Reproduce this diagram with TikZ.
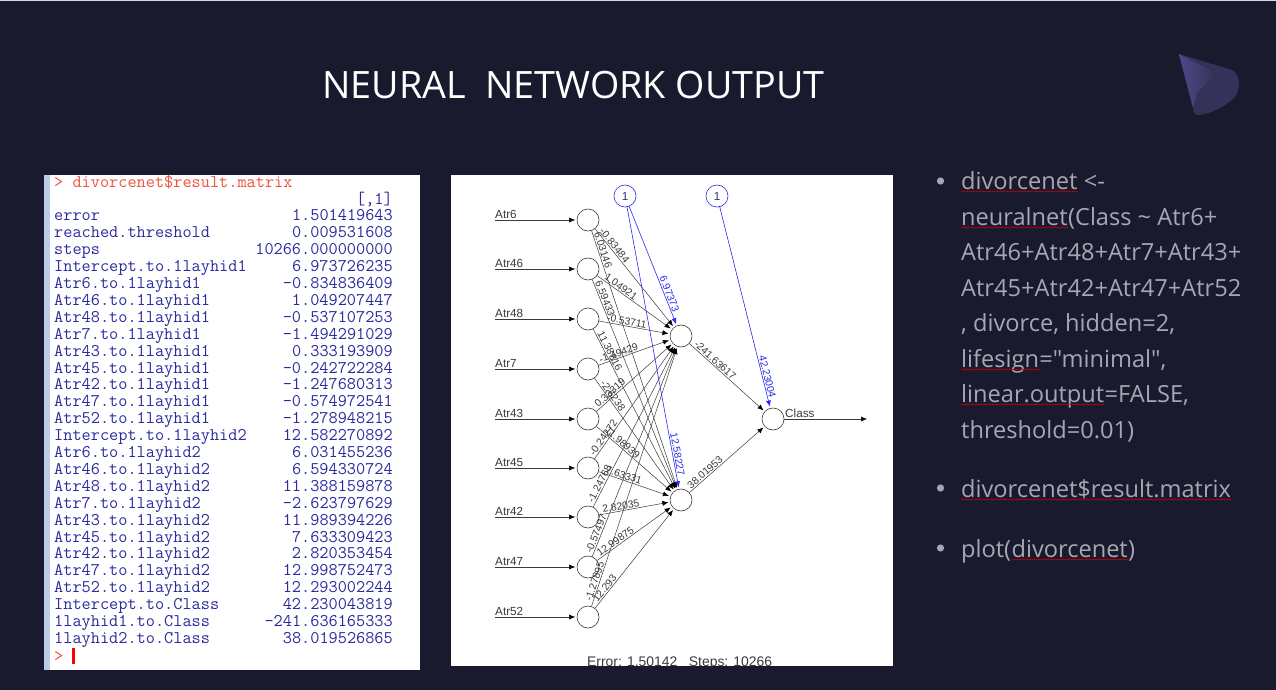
\documentclass[tikz,border=0pt]{standalone}
\usepackage{fontspec}
\setmainfont{Open Sans}[Ligatures=TeXOff]
\setsansfont{Liberation Sans}
\usetikzlibrary{arrows.meta,decorations.pathmorphing}
\definecolor{slidebg}{HTML}{1A1A2E}
\definecolor{slidetext}{HTML}{A6A6B4}
\definecolor{consoleblue}{HTML}{2B2BA0}
\definecolor{consolered}{HTML}{F2503C}
\definecolor{gutter}{HTML}{BCCBE6}
\definecolor{bluenet}{HTML}{2A2AF0}
\definecolor{greynet}{HTML}{3A3A3A}
\definecolor{conedark}{HTML}{363159}
\definecolor{conelight}{HTML}{4C4A86}
\tikzset{
    console/.style={font=\ttfamily\fontsize{17.8}{17.8}\selectfont,text=consoleblue,inner sep=0},
    neuron/.style={circle,draw=greynet,fill=white,minimum size=22pt,inner sep=0,line width=0.6pt},
    wire/.style={draw=greynet,line width=0.5pt,shorten >=1.5pt,-{Latex[length=6pt,width=5pt,color=black]}},
    bluewire/.style={draw=bluenet,line width=0.6pt,shorten >=1.5pt,-{Latex[length=6pt,width=5pt]}},
    weight/.style={font=\sffamily\fontsize{10.3}{10.3}\selectfont,text=greynet,inner sep=1pt,sloped,above},
    netlabel/.style={font=\sffamily\fontsize{11.7}{11.7}\selectfont,text=greynet,inner sep=0},
    body/.style={font=\fontsize{23.6}{23.6}\selectfont,text=slidetext,inner sep=0,anchor=base west},
    spellmark/.style={draw=red!80!black,line width=0.6pt,decorate,decoration={snake,amplitude=0.6pt,segment length=3pt}}
}
\begin{document}
\begin{tikzpicture}[x=1pt,y=-1pt]
    \useasboundingbox (0,0) rectangle (1276,690);
    \fill[slidebg] (0,0) rectangle (1276,690);
    \fill[black!15] (0,0) rectangle (1276,1);
    \node[text=white,font=\fontsize{37.7}{37.7}\selectfont,inner sep=0,anchor=base west] (title) at (322,98.5) {NEURAL\ \ NETWORK OUTPUT};

    \fill[conedark] (1179,54) -- (1232,70) .. controls (1240,74) and (1241,88) .. (1235,97)
        .. controls (1225,107) and (1208,115) .. (1197,115) .. controls (1194,114) and (1193,112) .. (1193,108) -- cycle;
    \shade[left color=conelight,right color=conedark] (1179,54) -- (1216,73) -- (1197,93) -- (1193,108) -- cycle;

    \fill[white] (44,175) rectangle (420,670);
    \fill[gutter] (44,175) rectangle (50,670);
    \node[console,text=consolered,anchor=base west] (prompt) at (54,187) {> divorcenet\$result.matrix};
    \node[console,anchor=base east] (colhead) at (393,204) {[,1]};
    \foreach \name/\val [count=\i] in {error/1.501419643,reached.threshold/0.009531608,steps/10266.000000000,
        Intercept.to.1layhid1/6.973726235,Atr6.to.1layhid1/-0.834836409,Atr46.to.1layhid1/1.049207447,
        Atr48.to.1layhid1/-0.537107253,Atr7.to.1layhid1/-1.494291029,Atr43.to.1layhid1/0.333193909,
        Atr45.to.1layhid1/-0.242722284,Atr42.to.1layhid1/-1.247680313,Atr47.to.1layhid1/-0.574972541,
        Atr52.to.1layhid1/-1.278948215,Intercept.to.1layhid2/12.582270892,Atr6.to.1layhid2/6.031455236,
        Atr46.to.1layhid2/6.594330724,Atr48.to.1layhid2/11.388159878,Atr7.to.1layhid2/-2.623797629,
        Atr43.to.1layhid2/11.989394226,Atr45.to.1layhid2/7.633309423,Atr42.to.1layhid2/2.820353454,
        Atr47.to.1layhid2/12.998752473,Atr52.to.1layhid2/12.293002244,Intercept.to.Class/42.230043819,
        1layhid1.to.Class/-241.636165333,1layhid2.to.Class/38.019526865} {
        \node[console,anchor=base west] (rowname\i) at (54,{204+16.9*\i}) {\name};
        \node[console,anchor=base east] (rowval\i) at (393,{204+16.9*\i}) {\val};
    }
    \node[console,text=consolered,anchor=base west] (endprompt) at (54,661) {>};
    \fill[red] (72,648) rectangle (74.5,664);

    \fill[white] (451,175) rectangle (893,666);
    \foreach \lab/\yy [count=\i] in {Atr6/220,Atr46/269,Atr48/319,Atr7/369,Atr43/419,Atr45/468,Atr42/517,Atr47/567,Atr52/617} {
        \coordinate (start\i) at (495,\yy);
        \node[neuron] (in\i) at (588,\yy) {};
        \node[netlabel,anchor=south west] (atr\i) at (495,\yy-1) {\lab};
        \draw[wire] (start\i) -- (in\i);
    }
    \node[neuron] (hid1) at (681,336) {};
    \node[neuron] (hid2) at (681,500) {};
    \node[neuron] (class) at (773,419) {};
    \node[neuron,draw=bluenet,font=\sffamily\fontsize{11.7}{11.7}\selectfont,text=greynet!60!bluenet] (bias1) at (625,196) {1};
    \node[neuron,draw=bluenet,font=\sffamily\fontsize{11.7}{11.7}\selectfont,text=greynet!60!bluenet] (bias2) at (717,196) {1};
    \foreach \i/\w/\p in {1/-0.83484/.2,2/1.04921/.28,3/-0.53711/.38,4/-1.49429/.3,5/0.33319/.22,6/-0.24272/.16,7/-1.24768/.13,8/-0.57497/.1,9/-1.27895/.09}
        \draw[wire] (in\i) -- node[weight,pos=\p] {\w} (hid1);
    \foreach \i/\w/\p in {1/6.03146/.08,2/6.59433/.1,3/11.38816/.15,4/-2.6238/.18,5/11.98939/.3,6/7.63331/.33,7/2.82035/.32,8/12.99875/.28,9/12.293/.17}
        \draw[wire] (in\i) -- node[weight,pos=\p] {\w} (hid2);
    \draw[bluewire] (bias1) -- node[weight,text=bluenet,pos=.75] {6.97373} (hid1);
    \draw[bluewire] (bias1) -- node[weight,text=bluenet,pos=.88] {12.58227} (hid2);
    \draw[bluewire] (bias2) -- node[weight,text=bluenet,pos=.85] {42.23004} (class);
    \draw[wire] (hid1) -- node[weight,pos=.3] {-241.63617} (class);
    \draw[wire] (hid2) -- node[weight,pos=.25] {38.01953} (class);
    \coordinate (classend) at (868.5,419);
    \draw[wire] (class) -- (classend);
    \node[netlabel,anchor=south west] (classlab) at (785,418) {Class};
    \begin{scope}
        \clip (451,175) rectangle (893,666);
        \node[netlabel,font=\sffamily\fontsize{13.9}{13.9}\selectfont,anchor=base west] (errline) at (587,666) {Error: 1.50142\ \ \ Steps: 10266};
    \end{scope}

    \foreach \yy in {181,488,548}
        \fill[slidetext] (940.5,\yy) circle (3.6);
    \node[body] (w1) at (961,189) {divorcenet};
    \node[body] (t1) at ([xshift=6pt]w1.base east) {<-};
    \node[body] (w2) at (961,225) {neuralnet};
    \node[body] (t2) at (w2.base east) {(Class \textasciitilde{} Atr6+};
    \node[body] (t3) at (961,260) {Atr46+Atr48+Atr7+Atr43+};
    \node[body] (t4) at (961,296) {Atr45+Atr42+Atr47+Atr52};
    \node[body] (t5) at (961,331) {, divorce, hidden=2,};
    \node[body] (w6) at (961,367) {lifesign};
    \node[body] (t6) at (w6.base east) {="minimal",};
    \node[body] (w7) at (961,402) {linear.output};
    \node[body] (t7) at (w7.base east) {=FALSE,};
    \node[body] (t8) at (961,438) {threshold=0.01)};
    \node[body] (w9) at (961,497) {divorcenet\$result.matrix};
    \node[body] (t10) at (961,557) {plot(};
    \node[body] (w10) at (t10.base east) {divorcenet};
    \node[body] (t11) at (w10.base east) {)};
    \foreach \w in {w1,w2,w6,w7,w9,w10}
        \draw[spellmark] ([yshift=-2.5pt]\w.base west) -- ([yshift=-2.5pt]\w.base east);
\end{tikzpicture}
\end{document}
